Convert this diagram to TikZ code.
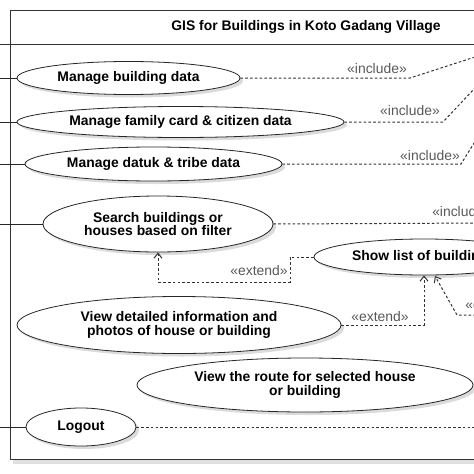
\documentclass[tikz,border=0pt]{standalone}
\usepackage{fontspec}
\setmainfont{Liberation Sans}
\usetikzlibrary{shapes.geometric,shadows,arrows.meta}

\begin{document}
\begin{tikzpicture}[x=1pt,y=1pt]
\tikzstyle{every node}+=[inner sep=0pt]
\tikzstyle{usecase}=[draw=black!85, ellipse, line width=0.8pt, fill=white, align=center,
  font=\fontsize{13.9}{13.5}\selectfont\bfseries,
  drop shadow={shadow xshift=3pt, shadow yshift=-3pt, fill=black!14, opacity=1}]
\tikzstyle{dep}=[black!80, line width=1pt, dash pattern=on 2.6pt off 2.2pt]
\tikzstyle{stereo}=[text=black!65, font=\fontsize{13.9}{13.5}\selectfont]
\useasboundingbox (0,0) rectangle (474,-474);
\clip (0,0) rectangle (474,-474);
% system boundary
\fill [black!12] (13,-13) rectangle (605,-464);
\draw [black!80, line width=0.8pt, fill=white] (10,-10) rectangle (602,-459);
\draw [black!80, line width=0.8pt] (0,-44) -- (602,-44);
\node (title) at (306,-27) [font=\fontsize{13.9}{13.5}\selectfont\bfseries] {GIS for Buildings in Koto Gadang Village};
% use cases
\node (bldg) at (128.5,-78) [usecase, minimum width=223, minimum height=33] {Manage building data};
\node (family) at (180.5,-122) [usecase, minimum width=327, minimum height=31] {Manage family card \& citizen data};
\node (datuk) at (153.5,-164) [usecase, minimum width=257, minimum height=34] {Manage datuk \& tribe data};
\node (search) at (158,-224) [usecase, minimum width=230, minimum height=56] {Search buildings or\\houses based on filter};
\node (showlist) at (424,-257) [usecase, minimum width=220, minimum height=36] {Show list of buildings};
\node (detail) at (179,-325) [usecase, minimum width=324, minimum height=57] {View detailed information and\\photos of house or building};
\node (route) at (305,-385) [usecase, minimum width=336, minimum height=54] {View the route for selected house\\or building};
\node (logout) at (81,-427) [usecase, minimum width=110, minimum height=38] {Logout};
% actor lines
\draw [black!85, line width=0.8pt] (bldg.west) -- (bldg.west -| 0,0);
\draw [black!85, line width=0.8pt] (family.west) -- (family.west -| 0,0);
\draw [black!85, line width=0.8pt] (datuk.west) -- (datuk.west -| 0,0);
\draw [black!85, line width=0.8pt] (search.west) -- (search.west -| 0,0);
\draw [black!85, line width=0.8pt] (logout.west) -- (logout.west -| 0,0);
% include
\coordinate (inc1) at (506,-47);
\coordinate (inc2) at (490,-72);
\coordinate (inc3) at (486,-124);
\coordinate (inc4) at (490,-223);
\coordinate (inc5) at (490,-427);
\draw [dep] (bldg.east) -- (410,-78) -- (inc1);
\node (lb1) at (377,-69) [stereo] {«include»};
\draw [dep] (family.east) -- (443,-122) -- (inc2);
\node (lb2) at (410,-111) [stereo] {«include»};
\draw [dep] (datuk.east) -- (461,-164) -- (inc3);
\node (lb3) at (430,-156) [stereo] {«include»};
\draw [dep] (search.east) -- (inc4);
\node (lb4) at (462,-212) [stereo] {«include»};
\draw [dep] (logout.east) -- (inc5);
% extend
\draw [dep, -{Straight Barb[length=5pt, width=8pt]}] (showlist.west) -- (290,-257) -- (290,-282) -- (search.south |- 0,-282) -- (search.south);
\node (lb5) at (259,-271) [stereo] {«extend»};
\draw [dep, -{Straight Barb[length=5pt, width=8pt]}] (detail.east) -- (showlist.south |- detail.east) -- (showlist.south);
\node (lb6) at (380,-317) [stereo] {«extend»};
\coordinate (ext3) at (500,-315);
\draw [dep, -{Straight Barb[length=5pt, width=8pt]}] (ext3) -- (457,-315) -- (435,-276);
\node (lb7) at (494,-305) [stereo] {«extend»};
\end{tikzpicture}
\end{document}
